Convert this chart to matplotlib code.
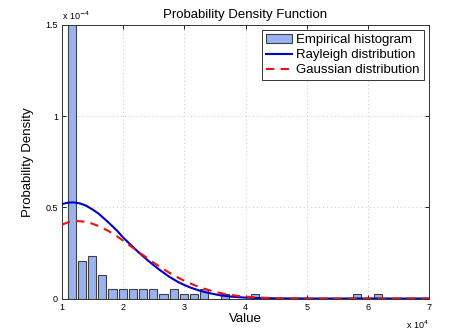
import matplotlib
matplotlib.use("Agg")
import matplotlib.pyplot as plt
from matplotlib.ticker import FuncFormatter

plt.rcParams["font.family"] = ["Liberation Sans", "DejaVu Sans"]

# histogram (bin centres in x, densities in 1e-5)
bin_width = 1667
bin_centers = [11600 + k * bin_width for k in range(31)]
bin_density = [49.0, 2.07, 2.31, 1.27, 0.5, 0.5, 0.5, 0.5, 0.5, 0.23,
               0.5, 0.25, 0.25, 0.5, 0.0, 0.23, 0.0, 0.0, 0.25, 0.0,
               0.0, 0.0, 0.0, 0.0, 0.0, 0.0, 0.0, 0.0, 0.23, 0.0, 0.23]

# fitted curves (x in 1e4, y in 1e-5)
curve_x = [1.0, 1.1, 1.2, 1.3, 1.4, 1.5, 1.6, 1.75, 1.9, 2.0, 2.1, 2.25,
           2.4, 2.5, 2.6, 2.75, 2.9, 3.0, 3.1, 3.25, 3.4, 3.5, 3.6, 3.75,
           3.9, 4.0, 4.25, 4.5, 5.0, 5.5, 6.0, 6.5, 7.0]
rayleigh_y = [5.18, 5.26, 5.27, 5.21, 5.08, 4.88, 4.65, 4.20, 3.72, 3.34,
              3.02, 2.54, 2.10, 1.82, 1.56, 1.20, 0.90, 0.74, 0.60, 0.43,
              0.30, 0.23, 0.17, 0.11, 0.07, 0.05, 0.02, 0.01, 0.0, 0.0,
              0.0, 0.0, 0.0]
gauss_y = [4.05, 4.18, 4.24, 4.24, 4.19, 4.10, 3.97, 3.72, 3.41, 3.17,
           2.93, 2.56, 2.20, 1.96, 1.74, 1.42, 1.14, 0.97, 0.82, 0.62,
           0.46, 0.37, 0.29, 0.20, 0.13, 0.10, 0.05, 0.02, 0.0, 0.0,
           0.0, 0.0, 0.0]

x_ticks = [10000, 20000, 30000, 40000, 50000, 60000, 70000]
y_ticks = [0, 0.5e-4, 1e-4, 1.5e-4]

fig = plt.figure(figsize=(4.74, 3.36), dpi=100)
ax = fig.add_axes([0.1308, 0.1116, 0.7743, 0.8140])

bars = ax.bar(bin_centers, [v * 1e-5 for v in bin_density], width=0.8 * bin_width,
              color="#9ab3f0", edgecolor="#404040", linewidth=0.8,
              label="Empirical histogram", zorder=2)
line_r, = ax.plot([x * 1e4 for x in curve_x], [v * 1e-5 for v in rayleigh_y],
                  color="#0000cc", linewidth=1.5, label="Rayleigh distribution",
                  zorder=3)
line_g, = ax.plot([x * 1e4 for x in curve_x], [v * 1e-5 for v in gauss_y],
                  color="#ee1111", linewidth=1.5, linestyle=(0, (4, 3)),
                  label="Gaussian distribution", zorder=4)

ax.set_xlim(10000, 70000)
ax.set_ylim(0, 1.5e-4)
ax.set_xticks(x_ticks)
ax.set_yticks(y_ticks)
ax.xaxis.set_major_formatter(FuncFormatter(lambda v, p: f"{v / 1e4:g}"))
ax.yaxis.set_major_formatter(FuncFormatter(lambda v, p: f"{v / 1e-4:g}"))
ax.tick_params(direction="in", length=3, width=0.6, labelsize=6.5,
               top=True, right=True, pad=3)
ax.grid(True, color="#c4c4c4", linestyle=(0, (1, 3)), linewidth=0.7)
ax.set_axisbelow(True)
for s in ax.spines.values():
    s.set_linewidth(0.7)
    s.set_color("#333333")

ax.set_title("Probability Density Function", fontsize=9.5, pad=5)
ax.set_xlabel("Value", fontsize=9.5, labelpad=1)
ax.set_ylabel("Probability Density", fontsize=9.5, labelpad=8)

ax.text(0.0, 1.012, r"x 10$^{-4}$", transform=ax.transAxes, fontsize=6.5,
        ha="left", va="bottom")
ax.text(1.0, -0.075, r"x 10$^{4}$", transform=ax.transAxes, fontsize=6.5,
        ha="right", va="top")

leg = ax.legend(handles=[bars, line_r, line_g], loc="upper right",
                fontsize=9.5, fancybox=False, framealpha=1,
                edgecolor="#333333", borderpad=0.3, labelspacing=0.2,
                handlelength=2.0, handletextpad=0.3, borderaxespad=0.4)
leg.get_frame().set_linewidth(0.7)

fig.savefig("out.png", dpi=100)
